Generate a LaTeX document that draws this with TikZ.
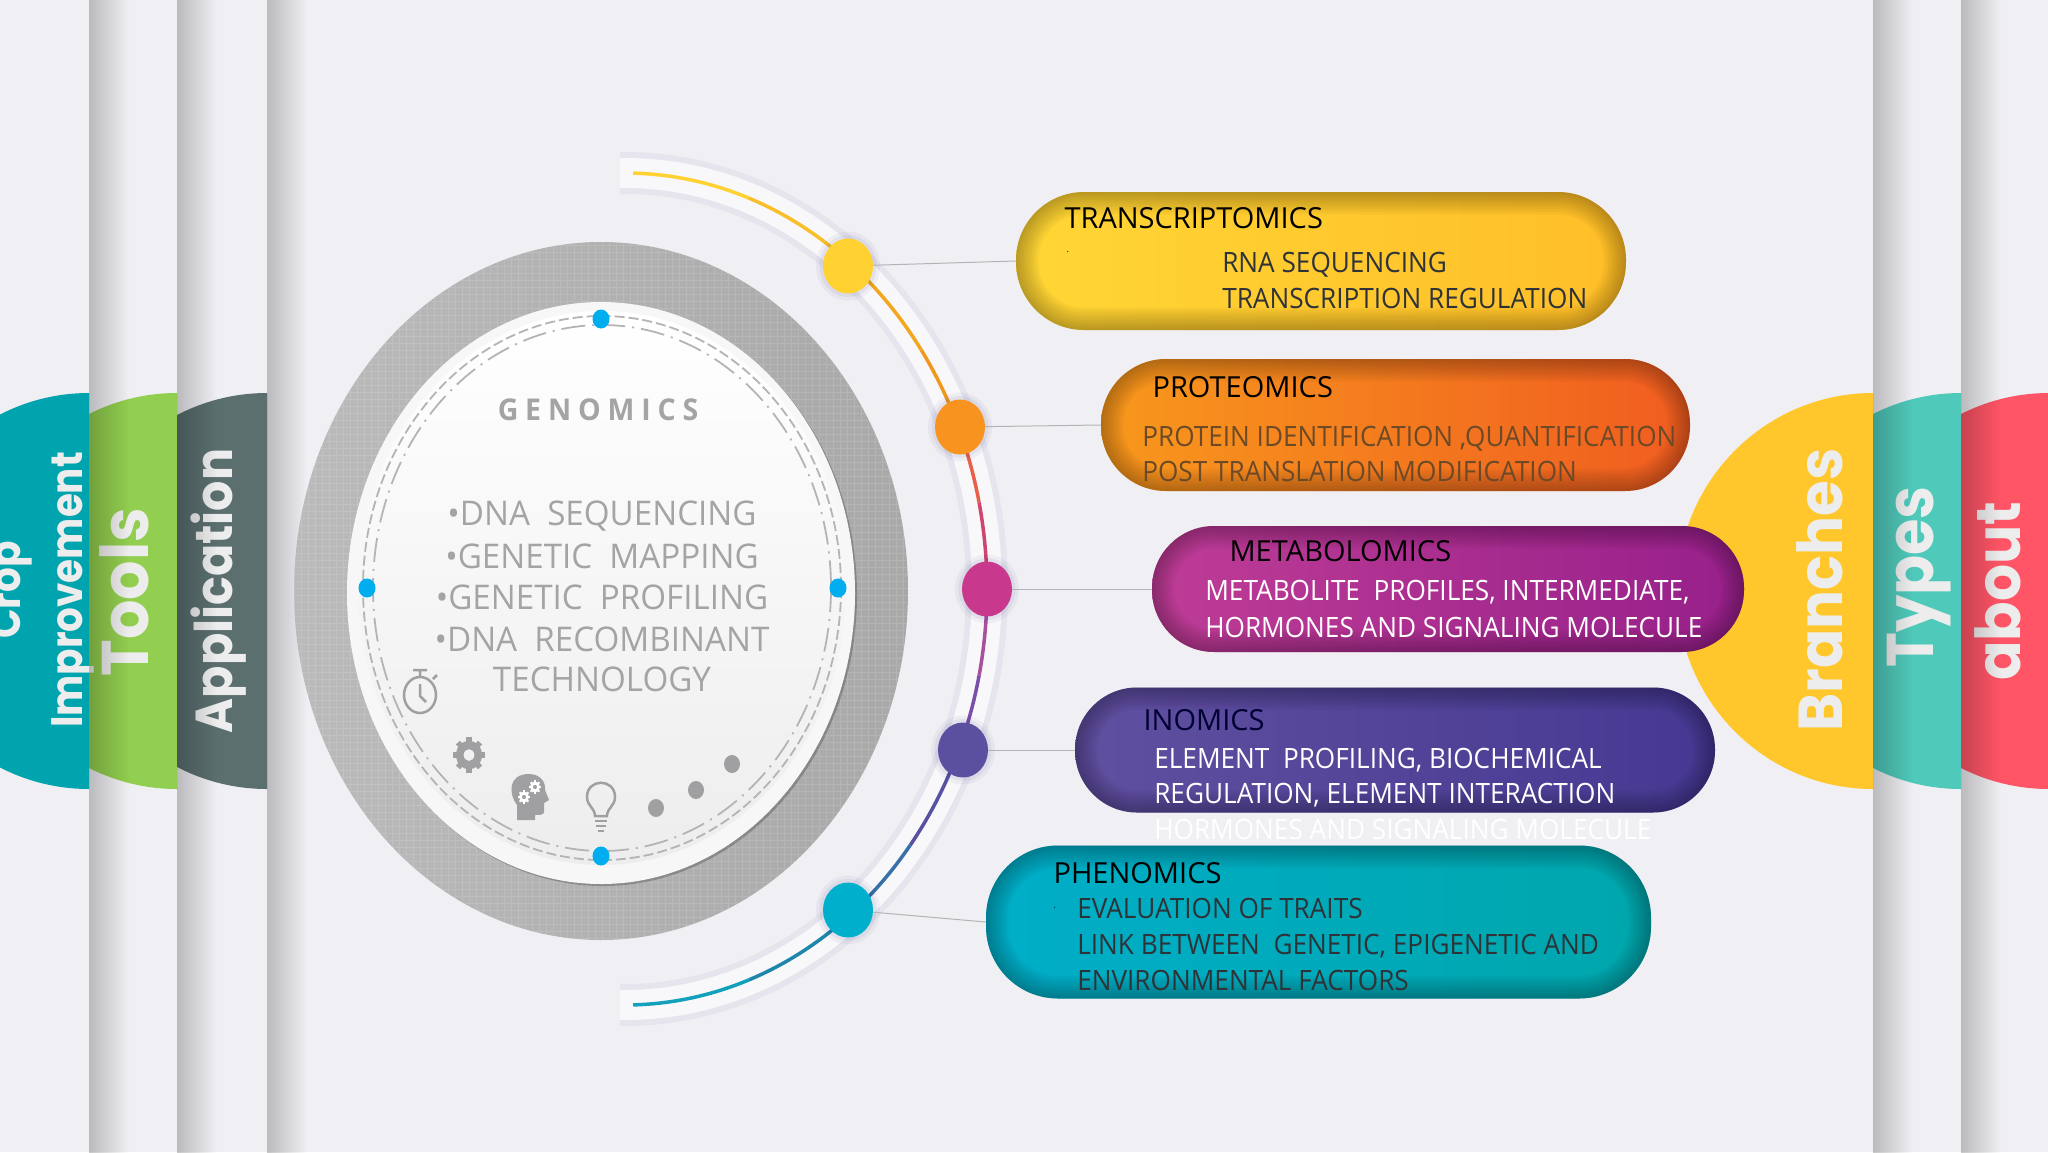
\documentclass[tikz,border=0pt]{standalone}
\usepackage{fontspec}
\usetikzlibrary{positioning, shapes.geometric, fadings}
\setmainfont{Open Sans}
\newfontfamily\tabfont{Poppins}[BoldFont={Poppins Bold}]
\newfontfamily\gnmfont[LetterSpace=24]{Open Sans}
\definecolor{pagebg}{HTML}{F0EFF3}
\definecolor{croptab}{HTML}{00A4AE}
\definecolor{tooltab}{HTML}{92CE4F}
\definecolor{apptab}{HTML}{5B6F6F}
\definecolor{branchtab}{HTML}{FFC72C}
\definecolor{typetab}{HTML}{4FC9BA}
\definecolor{abouttab}{HTML}{FF5566}
\definecolor{greytxt}{HTML}{A4A4A6}
\definecolor{icongrey}{HTML}{A0A0A2}
\definecolor{edgegrey}{HTML}{B4B4B7}
\definecolor{skydot}{HTML}{00AEEF}
\definecolor{darktxt}{HTML}{2E3338}
\definecolor{ydotc}{HTML}{FFD232}
\definecolor{odotc}{HTML}{F7931E}
\definecolor{pdotc}{HTML}{C8388C}
\definecolor{idotc}{HTML}{5B4FA0}
\definecolor{tdotc}{HTML}{00AFCB}
\definecolor{tpilla}{HTML}{FFD635}
\definecolor{tpillb}{HTML}{FFBE28}
\definecolor{opilla}{HTML}{F8981C}
\definecolor{opillb}{HTML}{F05C20}
\definecolor{mpilla}{HTML}{BE3C96}
\definecolor{mpillb}{HTML}{96208A}
\definecolor{ipilla}{HTML}{6050A0}
\definecolor{ipillb}{HTML}{463892}
\definecolor{ppilla}{HTML}{00AEC8}
\definecolor{ppillb}{HTML}{00A6AC}
\newcommand{\cogwheel}[4]{%
  \foreach \a in {0,45,...,315}
    \draw[#4,line width=#3*.42pt] (#1,#2) ++(\a:#3*.8 and #3*.9) -- ++(\a:#3*.4 and #3*.45);
  \fill[#4,even odd rule] (#1,#2) ellipse[x radius=#3,y radius=#3*1.1] (#1,#2) ellipse[x radius=#3*.42,y radius=#3*.46];
}
\tikzset{
  pillbox/.style={rounded corners=#1,inner sep=0pt,
    path picture={\foreach \w in {5,10,...,45}
      \draw[black,opacity=.03,line width=\w pt,rounded corners=#1]
        (path picture bounding box.south west) rectangle (path picture bounding box.north east);}},
  trackdot/.style={ellipse,inner sep=0pt,minimum width=50pt,minimum height=55pt,
    preaction={draw=black!60!blue,line width=14pt,draw opacity=.04},
    preaction={draw=black!60!blue,line width=7pt,draw opacity=.05}},
  bluedot/.style={ellipse,fill=skydot,inner sep=0pt,minimum width=17pt,minimum height=19pt},
  greydot/.style={ellipse,fill=icongrey,inner sep=0pt,minimum width=16pt,minimum height=18pt},
  tabtext/.style={text=white!93!black,rotate=90,anchor=base},
  gtext/.style={text=greytxt,xscale=.975,font=\fontsize{34}{34}\selectfont},
  title/.style={anchor=base west,xscale=1,text=black,font=\fontsize{29}{29}\selectfont},
  sub/.style={anchor=base west,xscale=.935,font=\fontsize{28}{28}\selectfont},
  tabshade/.style={black,opacity=.22,path fading=east},
  tline/.style={line width=3.5pt},
  stem/.style={edgegrey,line width=1pt}
}
\begin{document}
\begin{tikzpicture}[x=1pt,y=-1pt]
  \useasboundingbox (0,0) rectangle (2048,1152);
  \clip (0,0) rectangle (2048,1152);
  \fill[pagebg] (0,0) rectangle (2048,1152);

  % side tabs
  \foreach \c/\l/\r/\col in {89/-5/89/croptab,177/89/177/tooltab,267/177/267/apptab,
      1873/1500/1873/branchtab,1961/1873/1961/typetab,2049/1961/2049/abouttab}{
    \begin{scope}
      \clip (\l,0) rectangle (\r,1152);
      \fill[\col] (\c,591) ellipse[x radius=196,y radius=198];
    \end{scope}
  }
  \node[tabtext,xscale=.884,font=\tabfont\bfseries\fontsize{44}{44}\selectfont] (crop) at (20,590) {Crop};
  \node[tabtext,xscale=.884,font=\tabfont\bfseries\fontsize{44}{44}\selectfont] (improve) at (82,590) {Improvement};
  \node[tabtext,xscale=.94,font=\tabfont\bfseries\fontsize{66}{66}\selectfont] (tools) at (148,592) {Tools};
  \node[tabtext,xscale=.915,font=\tabfont\bfseries\fontsize{52}{52}\selectfont] (applic) at (232,591) {Application};
  \node[tabtext,xscale=.933,font=\tabfont\bfseries\fontsize{62}{62}\selectfont] (branches) at (1842,590) {Branches};
  \node[tabtext,xscale=.895,font=\tabfont\bfseries\fontsize{66}{66}\selectfont] (types) at (1933,577) {Types};
  \node[tabtext,xscale=.94,font=\tabfont\bfseries\fontsize{62}{62}\selectfont] (about) at (2020,591) {about};
  \foreach \x in {89,177,267,1873,1961}
    \fill[tabshade] (\x,-20) rectangle (\x+40,1172);

  % grey disc
  \coordinate (disc) at (601,591);
  \shade[left color=black!27,right color=black!34] (disc) ellipse[x radius=307,y radius=349];
  \begin{scope}
    \clip (disc) ellipse[x radius=307,y radius=349];
    \draw[white,opacity=.13,line width=1pt,step=7pt] (290,240) grid (912,944);
  \end{scope}
  \fill[black,opacity=.22] (603,595) ellipse[x radius=254,y radius=291];
  \fill[white!97!black] (601,593) ellipse[x radius=254,y radius=291];
  \shade[top color=white,middle color=white!95!black,bottom color=white!93!black] (602,588) ellipse[x radius=244,y radius=277];
  \draw[edgegrey,line width=1.8pt,dash pattern=on 10pt off 4pt] (602,588) ellipse[x radius=239,y radius=272];
  \draw[edgegrey,line width=1.8pt,dash pattern=on 24pt off 7pt on 2pt off 7pt] (602,588) ellipse[x radius=229,y radius=263];
  \node[bluedot] (dottop) at (601,319) {};
  \node[bluedot] (dotbot) at (601,856) {};
  \node[bluedot] (dotleft) at (367,588) {};
  \node[bluedot] (dotright) at (838,588) {};

  \node[text=greytxt,xscale=.95,font=\gnmfont\bfseries\fontsize{30}{30}\selectfont] (gnm) at (598,410) {GENOMICS};
  \node[gtext] (g1) at (602,516) {•DNA\ \ SEQUENCING};
  \node[gtext] (g2) at (602,556) {•GENETIC\ \ MAPPING};
  \node[gtext] (g3) at (602,597) {•GENETIC\ \ PROFILING};
  \node[gtext] (g4) at (602,639) {•DNA\ \ RECOMBINANT};
  \node[gtext] (g5) at (602,679) {TECHNOLOGY};

  % icons
  \draw[icongrey,line width=2.5pt] (420,695) ellipse[x radius=16,y radius=18]
    (420,677) -- (420,671) (413,670) -- (427,670) (433,679) -- (437,675)
    (420,684) -- (420,696) -- (426,702);
  \cogwheel{469}{755}{13}{icongrey}
  \fill[icongrey] (517,820) -- (517,805) .. controls (509,795) and (507,774) .. (529,774)
    .. controls (541,774) and (546,783) .. (545,790) -- (549,800) -- (544,803) -- (544,812)
    .. controls (544,815) and (539,815) .. (535,815) -- (535,820) -- cycle;
  \cogwheel{535}{787}{5}{white}
  \cogwheel{524}{797}{5}{white}
  \draw[icongrey,line width=2.5pt] (595,816) .. controls (595,808) and (587,806) .. (587,797)
    .. controls (587,778) and (615,778) .. (615,797) .. controls (615,806) and (607,808) .. (607,816) -- cycle;
  \draw[icongrey,line width=2.5pt] (595,821) -- (607,821) (596,826) -- (606,826) (598,831) -- (604,831);
  \node[greydot] (dot1) at (656,808) {};
  \node[greydot] (dot2) at (696,790) {};
  \node[greydot] (dot3) at (732,764) {};

  % curved track
  \coordinate (hub) at (625,589);
  \draw[black!60!blue,opacity=.04,line width=42pt] ([shift={(-90.8:362 and 416)}]hub)
    arc[start angle=-90.8,end angle=90.8,x radius=362,y radius=416];
  \draw[white!50!pagebg,line width=30pt] ([shift={(-90.8:362 and 416)}]hub)
    arc[start angle=-90.8,end angle=90.8,x radius=362,y radius=416];
  \foreach \a/\b/\col in {-88.7/-70/FFD233,-70/-51/F9BF2A,-51/-35/F2A71E,-35/-23/F0981E,
      -23/-12/E8604A,-12/0/CF4570,0/12/A8509E,12/23/7A4FA8,23/38/5850A0,38/51/3A70A8,
      51/70/1E86AC,70/88.7/12A0BA}{
    \definecolor{segcol}{HTML}{\col}
    \draw[tline,segcol] ([shift={(\a:362 and 416)}]hub)
      arc[start angle=\a,end angle=\b,x radius=362,y radius=416];
  }
  \node[trackdot,fill=ydotc] (ydot) at (848,266) {};
  \node[trackdot,fill=odotc] (odot) at (960,427) {};
  \node[trackdot,fill=pdotc] (pdot) at (987,589) {};
  \node[trackdot,fill=idotc] (idot) at (963,750) {};
  \node[trackdot,fill=tdotc] (tdot) at (848,910) {};

  % pills
  \node[pillbox=68pt,minimum width=610pt,minimum height=138pt,left color=tpilla,right color=tpillb] (tpill) at (1321,261) {};
  \node[pillbox=65pt,minimum width=589pt,minimum height=132pt,left color=opilla,right color=opillb] (opill) at (1395.5,425) {};
  \node[pillbox=62pt,minimum width=592pt,minimum height=126pt,left color=mpilla,right color=mpillb] (mpill) at (1448,589) {};
  \node[pillbox=62pt,minimum width=640pt,minimum height=125pt,left color=ipilla,right color=ipillb] (ipill) at (1395,750) {};
  \node[pillbox=72pt,minimum width=665pt,minimum height=153pt,left color=ppilla,right color=ppillb] (ppill) at (1318.5,922) {};

  \draw[stem] (ydot) -- (tpill.west);
  \draw[stem] (odot) -- (opill.west);
  \draw[stem] (pdot) -- (mpill.west);
  \draw[stem] (idot) -- (ipill.west);
  \draw[stem] (tdot) -- (ppill.west);

  % pill text
  \node[title] (ttitle) at (1061,228) {TRANSCRIPTOMICS};
  \node[sub,text=darktxt] (ta) at (1219,272) {RNA SEQUENCING};
  \node[sub,text=darktxt] (tb) at (1219,308) {TRANSCRIPTION REGULATION};
  \node[title,font=\fontsize{9}{9}\selectfont] (tspeck) at (1063,252) {.};

  \node[title] (otitle) at (1149,397) {PROTEOMICS};
  \node[sub,text=darktxt!70!orange] (oa) at (1139,446) {PROTEIN IDENTIFICATION ,QUANTIFICATION};
  \node[sub,text=darktxt!70!orange] (ob) at (1139,481) {POST TRANSLATION MODIFICATION};

  \node[title] (mtitle) at (1226,561) {METABOLOMICS};
  \node[sub,text=white] (ma) at (1202,600) {METABOLITE\ \ PROFILES, INTERMEDIATE,};
  \node[sub,text=white] (mb) at (1202,637) {HORMONES AND SIGNALING MOLECULE};

  \node[title,text=black!80!blue] (ititle) at (1140,730) {INOMICS};
  \node[sub,text=white] (ia) at (1151,768) {ELEMENT\ \ PROFILING, BIOCHEMICAL};
  \node[sub,text=white] (ib) at (1151,803) {REGULATION, ELEMENT INTERACTION};
  \node[sub,text=white] (ic) at (1151,839) {HORMONES AND SIGNALING MOLECULE};

  \node[title] (ptitle) at (1050,883) {PHENOMICS};
  \node[sub,text=darktxt] (pa) at (1074,918) {EVALUATION OF TRAITS};
  \node[sub,text=darktxt] (pb) at (1074,954) {LINK BETWEEN\ \ GENETIC, EPIGENETIC AND};
  \node[sub,text=darktxt] (pc) at (1074,990) {ENVIRONMENTAL FACTORS};
  \node[title,font=\fontsize{9}{9}\selectfont] (pspeck) at (1050,908) {.};
\end{tikzpicture}
\end{document}
